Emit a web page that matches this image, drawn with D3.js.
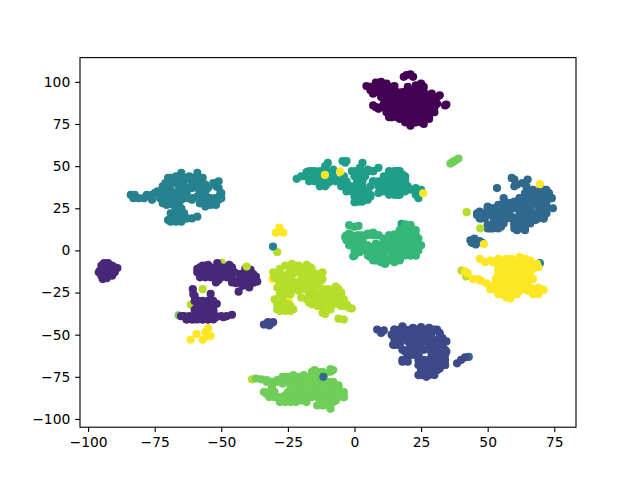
<!DOCTYPE html>
<html>
<head>
<meta charset="utf-8">
<script src="https://cdn.jsdelivr.net/npm/d3@7"></script>
<style>
  html, body { margin: 0; padding: 0; background: #fff; }
  svg { display: block; }
  text { font-family: "DejaVu Sans", sans-serif; }
</style>
</head>
<body>
<div id="chart"></div>
<script>
// values, one list per digit class: [x, y]
const class0 = [[19.5,104],[21,104.5],[18.5,103],[22,103],[4.5,97.5],[6,95],[8,99.5],[10,100],[12,99],[15,97.5],[13,96],[9,95],[7,93],[10,91],[13,92],[16,93],[20,97],[23,98],[25,99],[22,95],[19,94],[26,94],[29,93],[32,92],[24,92],[27,90],[22,90],[18,89],[15,88],[11,87],[7,86],[9,84],[13,85],[16,84],[19,85],[22,86],[25,87],[28,87],[31,87],[34.5,86.5],[34,86],[30,82],[27,83],[24,83],[21,81],[18,81],[15,81],[13,79],[17,78],[20,78],[23,76],[21,74],[25,78],[28,78],[26,75],[29,85],[12,82],[18,86],[21,92],[15,90]];
const class1 = [[-95,-9],[-94,-7.5],[-92.5,-7.5],[-91,-9],[-89,-10.5],[-95.5,-12],[-93,-12],[-91,-12.5],[-94,-15],[-92,-14],[-94.5,-17],[-93,-16.5],
  [-59,-11],[-57,-9],[-55,-8.5],[-51.5,-7.5],[-47,-8.5],[-58,-13],[-56,-12],[-54,-14],[-52,-12],[-50,-10],[-48,-13],[-46,-12],[-51,-17.5],[-53,-15],[-50,-15],[-46,-15],[-44.5,-19.5],[-42,-19],[-41,-14],[-39,-11.5],[-43,-17],[-41,-17],[-39,-15],[-37,-15.5],[-40,-20],[-38,-19],[-36.5,-18.5],[-39.5,-22],[-43.5,-24.5],[-43,-14],
  [-60.7,-23],[-60.5,-26],[-60,-30],[-54,-25.8],[-58.5,-30],[-57,-34],[-55,-31],[-51.7,-31.7],[-60,-35.3],[-56.1,-36.3],[-53,-35.3],[-58,-39.6],[-55,-41],[-52,-39.6],[-49.2,-39.6],[-46,-38.2],[-65.1,-39],[-63,-41],[-60.5,-41],[-57,-41],[-53,-40]];
const class2 = [[8.5,-47],[10,-49],[11,-47.5],[14,-50],[15,-47],[18,-45],[20,-48],[22,-46],[25,-45.5],[28,-46],[30,-47],[32,-49],[33,-52],[34.5,-54],[29,-49],[25,-50],[21,-51],[17,-50],[16,-56],[14.5,-56],[20,-54],[23,-54],[27,-54],[31,-55],[19,-60],[24,-58],[28,-58],[31,-58],[34.5,-60],[33,-62],[20.5,-62],[24,-62],[29,-62],[33,-65],[18,-66],[20,-66],[25,-66],[28,-66],[31,-67],[34,-68],[25,-70],[28,-70],[31,-71],[25,-74],[27,-75],[29,-73],[32,-70],[38.5,-67],[40,-65],[41.5,-63.5],
  [-34,-44],[-32.5,-42.5],[-31,-43],[-32,-44.5],[-30.5,-42.5]];
const class3 = [[47,23],[46,21],[47.5,19],[50,22],[52,25],[54,27],[53.5,37],[50,26],[52,20],[55,19],[56,24],[57,22],[58,28],[56,31],[60,29],[60,25],[59,20],[62,17],[60,15],[53,16],[50,15],[51,13],[55,14],[61,12],[64,12],[63,14],[65,18],[63,22],[66,24],[64,28],[67,28],[69,26],[72,26],[70,20],[72,22],[68,18],[71,19],[74.5,25],[66,33],[68,31],[70,34],[73,33],[74,31],[72,36],[70,37],[67,36],[64,34],[62,31],[65,31],[60,42],[59,43],[61,39],[60,38],[63,40],[65,42],[64.5,38],
  [43.5,6],[45,7],[46,5],[44,4.5],[45.5,3.5],[47,5.5],[48,4.5]];
const class3Strays = [[42.9,-63.2],[-11.7,-75]];
const class4 = [[-84,33],[-83,31],[-82.5,33],[-81,31],[-79,31],[-78,33],[-76,30],[-76,33],[-74,35],[-73,33],[-72,38],[-72,30],[-70,40],[-69,36],[-70,32],[-70,28],[-68,27],[-70.5,27],
  [-70,43],[-67,44],[-65,46],[-62,44],[-59,46],[-60,42],[-64,41],[-66,38],[-63,37],[-60,38],[-58,40],[-67,33],[-64,33],[-61,31],[-65,30],
  [-59,32],[-58,37],[-56,39],[-53,40],[-51,41],[-52,38],[-55,31],[-58,28],[-61,30],[-52,31],[-50.5,33],[-51,30],[-54,27],[-56,26],[-52,27],
  [-69,22],[-67,24],[-65,25],[-64,22],[-70,18],[-68,19],[-66,18],[-63,19],[-61,19],[-59,20]];
const class4Strays = [[-30.6,2.3],[69.6,-7.6]];
const class5 = [[-21.7,42.5],[-19,44],[-18,46.5],[-16,47],[-16,44],[-15,42],[-13,39.5],[-12,43],[-12,46],[-11,50],[-10,52],[-8,48],[-9,44],[-10,40],[-7,42],[-4.5,53],[-3,53],[-3.5,52],[-4,44],[-3,40],[-1,47],[-5,41],[-2,37],[0,35],[1,38],[2,42],[0.5,47],[2,49],[3,52],[5,48],[7,47],[9,49],[6,38],[4,35],[3,32],[0,28.5],[2,29],[5,30],[6,33],[7,41],[10,40],[12,43],[13,46],[16,47],[18,45],[19,42],[15,42],[12,38],[14,35],[16,33],[18,37],[20,38],[17,40],[21,36],[23,37],[25,36],[24,31],[23,33],[9,34],[17.7,15.7]];
const class6 = [[-2,15],[0,14],[1.5,14.5],[-3.5,8],[-2,10],[0,7],[-1,4],[2,9],[3,6],[5,10],[7,10.5],[9,9],[11,7],[13,9],[15,9.5],[17,12],[19,15.5],[21,15],[22,12],[23,9],[24,7],[20,10],[18,7],[16,6],[13,4],[10,3],[8,4],[5,3],[3,2],[1,0],[0,-3],[-0.5,-3.5],[2,-1],[5,-1],[6,-4],[8,-6],[10,-7],[11.5,-8],[14,-4],[15,-7],[17,-5],[19,0],[21,-3],[23,-3],[24,2],[20,4],[22,6],[18,2],[15,2],[12,0],[9,0],[7,1],[14.5,-1]];
const class7 = [[-37,-76],[-35,-76.5],[-33,-77],[-31,-78],[-29,-77],[-26,-75],[-23,-74],[-19,-74],[-15,-71],[-14,-73],[-11,-73],[-9,-70.5],[-8,-71],[-31,-81],[-27,-79],[-24,-78],[-21,-78],[-17,-77],[-14,-78],[-11,-78],[-8,-79],[-6,-80],[-33,-85],[-30,-87],[-28,-88],[-25,-84],[-22,-82],[-19,-82],[-16,-83],[-13,-83],[-10,-84],[-7,-84],[-5,-86],[-4,-87],[-23,-88],[-20,-89],[-17,-87],[-13,-88],[-9,-88],[-7,-89],[-14,-92],[-12,-92],[-10,-92],[-9,-94],[-26,-86],
  [36,51.5],[37,52.5],[38,53.5],[39,54.5],[36.5,52]];
const class7Strays = [[-66,-38.5]];
const class8 = [[-30.5,-13],[-28,-11],[-26,-9],[-23.5,-8],[-21,-9],[-18,-8.5],[-16.5,-10],[-14,-14],[-12,-13],[-30,-16],[-27,-15],[-24,-13],[-21,-13],[-18,-13],[-16,-15],[-12.5,-18],[-28,-19],[-25,-18],[-22,-19],[-18,-18],[-29,-22],[-26,-23],[-23,-23],[-21,-24],[-15,-22],[-12,-23],[-9,-25],[-13,-26],[-7,-21.5],[-5,-25],[-10,-28],[-30,-29],[-27,-29],[-20,-28],[-17,-27.5],[-14,-30],[-11,-31],[-7,-27],[-5,-29],[-7,-31],[-4,-33],[-2,-34],[-1,-34.5],[-28,-33],[-25,-32],[-28,-36],[-26,-36],[-24,-36],[-24,-33],[-17,-31],[-14,-33],[-12,-34],[-5,-33],[-11,-37.8],[-6,-40.5],[-4,-41],[-12,-37]];
const class8Under = [[-49.9,-7.2],[-61.4,-32.2],[-38.5,-76.5],[-29,-1],[40.2,-12],[41.9,-15.5]];
const class8Over = [[-40.5,-9.6],[-57,-23],[42.1,22.7],[47.2,13.1]];
const class9 = [[47,-5],[49,-7],[51,-6],[54,-5],[57,-5],[59,-5],[62,-4],[64,-5],[66,-6],[68.5,-8],[69,-10],[67,-11],[54,-10],[57,-9],[60,-9],[63,-9],[66,-10],[54,-14],[56,-13],[59,-13],[62,-13],[65,-13],[53,-17],[56,-17],[59,-17],[62,-17],[65,-17],[52,-21],[55,-21],[58,-21],[61,-21],[64,-20],[67,-17],[66,-22],[69,-22],[68,-25],[71,-23.5],[54,-26],[57,-28],[58.5,-28.5],[59,-25],[62,-24],[65,-24],[51,-23],
  [41.5,-12.5],[42.5,-13.5],[44.5,-17],[46.5,-17],[47.5,-18],[49.5,-19.5],
  [-61.5,-53],[-59.3,-49.6],[-57,-53],[-54.9,-46.3],[-56,-48.5],[-54,-50.8],[-55.5,-51],
  [-28.2,13.5],[-29.5,10.5],[-26.7,10.5],[-28.2,11.5]];
const class9Strays = [[-11.1,44.8],[-5.4,46.7],[25.8,33.9],[69.6,39.3],[48.6,3.8]];
const class9Under = [[-30.8,-17],[-24.7,-30.3]];

// the dense middles of the blobs, read as rows: [y, [x, x, ...]]
const rows0 = [[97,[6,8,10,12,14,24,26]],[94,[8,10,12,14,16,18,20,22,24,26]],[91,[11,13,15,17,19,21,23,25,27,29,31]],[88,[12,14,16,18,20,22,24,26,28,30]],[85,[8,10,12,14,16,18,20,22,24,26,28,30]],[82,[14,16,18,20,22,24,26,28]],[79,[14,16,18,20,22,24,26,28]],[76,[19,21,23,25]]];
const rows1 = [[-10,[-94,-92,-90,-58,-56,-54,-52,-48,-46]],[-13,[-96,-94,-92,-90,-59,-57,-55,-53,-51,-49,-47,-45]],[-15,[-95,-93,-91]],[-16,[-58,-56,-54,-52,-50,-48,-46,-42,-40,-38]],[-19,[-52,-46,-44,-42,-40,-38]],[-14,[-42,-40,-38]],[-21,[-42,-40]],[-11,[-41,-40]],[-27,[-60]],[-30,[-59,-57,-55,-53]],[-33,[-59,-57,-55,-53]],[-36,[-59,-57,-55,-53]],[-39,[-64,-62,-60,-58,-56,-54,-52,-50,-48]],[-41,[-63,-61,-59,-57,-55,-53]]];
const rows2 = [[-47,[15,17,19,21,23,25,27,29,31]],[-50,[14,16,18,20,22,24,26,28,32]],[-53,[15,17,19,21,23,25,27,29,31,33]],[-56,[15,17,21,23,25,29,31,33]],[-59,[18,20,22,24,26,28,30,32,34]],[-62,[20,22,24,30,32,34]],[-65,[18,24,26,28,30,32,34]],[-68,[24,26,28,30,32,34]],[-71,[25,27,29,31]],[-74,[24,26,28,30]]];
const rows3 = [[34,[65,67,69,71,73]],[31,[62,64,66,68,70,72,74]],[28,[56,58,60,62,64,70,72]],[25,[50,52,54,56,58,62,64,66,70,72]],[22,[46,48,50,52,54,56,58,62,64,66,68,70,72]],[19,[47,49,53,55,57,59,61,63,65,67,69,71]],[16,[52,54,56,60,62,64,66]],[13,[50,52,54,60,62,64]]];
const rows4 = [[43,[-69,-67,-65,-63,-61,-59,-57]],[40,[-71,-69,-67,-61,-59,-57]],[37,[-71,-65,-63,-61,-59,-57,-55,-51]],[34,[-75,-73,-71,-69,-67,-65,-63,-58,-56,-50]],[31,[-73,-71,-69,-67,-65,-63,-58,-56,-54,-52,-50]],[28,[-72,-70,-68,-66,-58,-56,-54,-52]],[22,[-68,-66,-64]],[19,[-69,-67,-65,-63]],[17,[-69,-67,-65]]];
const rows5 = [[47,[-17,-15,-13,-11,-9,3,5,7,13,15,17]],[44,[-20,-18,-14,-12,-10,-8,0,2,4,11,13,15,17,19]],[41,[-17,-15,-13,-11,-9,-7,-5,-3,1,3,7,9,11,13,15,17,19]],[38,[-13,-11,-5,-3,-1,1,3,9,11,13,15,17,19]],[35,[-3,-1,1,3,5,11,13,15,17,19]],[33,[13,15,17]],[32,[0,2,4,6]],[29,[1,3]]];
const rows6 = [[15,[19,21]],[12,[17,19,21,23]],[9,[-3,-1,1,3,5,7,9,13,15,17,19,21,23]],[6,[-3,-1,1,3,11,13,15,17,19,21,23]],[3,[-2,0,2,11,13,15,17,19,21,23,25]],[2,[5,7,9]],[0,[0,2,4,6,8,10,12,14,16,18,20,22,24]],[-3,[0,5,7,9,11,15,17,19,21,23]],[-6,[7,9,11,13,15,17]]];
const rows7 = [[-72,[-16,-14,-12,-9]],[-75,[-27,-25,-23,-21,-19,-17,-15,-13]],[-78,[-33,-31,-29,-26,-24,-22,-20,-18,-16,-14,-12,-10,-8]],[-81,[-31,-24,-22,-20,-18,-16,-14,-12,-10,-8,-6]],[-84,[-34,-32,-30,-24,-22,-20,-18,-16,-14,-12,-10,-8,-6,-4]],[-87,[-32,-30,-28,-26,-24,-22,-20,-18,-16,-14,-12,-10,-8,-6,-4]],[-90,[-28,-26,-24,-22,-18,-12,-10,-8]]];
const rows8 = [[-11,[-24,-22,-20,-18,-16]],[-14,[-29,-25,-23,-19,-17,-13]],[-17,[-29,-26,-24,-20,-16,-14,-12]],[-20,[-27,-25,-23,-21,-19,-17,-14]],[-23,[-28,-24,-19,-16,-10,-8,-6]],[-26,[-28,-26,-24,-17,-15,-11,-7,-5]],[-29,[-18,-16,-12,-8,-6,-4]],[-32,[-29,-27,-16,-12,-10,-8,-6,-3]],[-35,[-29,-27,-25,-23,-9]]];
const rows9 = [[-7,[52,54,56,58,60,62,64,66]],[-10,[55,57,59,61,63,65]],[-12,[54,56,58,60,62,64,66]],[-15,[54,56,58,60,62,64,66]],[-19,[53,55,57,59,61,63,65]],[-23,[52,54,56,58,60,62,64,66,68,70]],[-26,[55,57,59,61,67,69]]];

const xTicks = [-100, -75, -50, -25, 0, 25, 50, 75];
const yTicks = [-100, -75, -50, -25, 0, 25, 50, 75, 100];

function fromRows(rows) {
  return rows.flatMap(([yv, xs]) => xs.map(xv => [xv, yv]));
}

// draw order matters, the strays sit under or over the blobs
const layers = [
  [9, class9Under], [8, class8Under], [7, class7Strays], [4, class4Strays], [3, class3Strays.slice(0, 1)],
  [0, class0.concat(fromRows(rows0))], [1, class1.concat(fromRows(rows1))], [2, class2.concat(fromRows(rows2))],
  [3, class3.concat(fromRows(rows3))], [4, class4.concat(fromRows(rows4))], [5, class5.concat(fromRows(rows5))],
  [6, class6.concat(fromRows(rows6))], [7, class7.concat(fromRows(rows7))], [8, class8.concat(fromRows(rows8))],
  [9, class9.concat(fromRows(rows9))],
  [3, class3Strays.slice(1)], [8, class8Over], [9, class9Strays]
];

const width = 640, height = 480;
const margin = { top: 57.6, right: 64, bottom: 52.8, left: 80 };

const svg = d3.select("#chart").append("svg")
  .attr("width", width)
  .attr("height", height);

const x = d3.scaleLinear().domain([-103.04, 83.15]).range([margin.left, width - margin.right]);
const y = d3.scaleLinear().domain([-104.9, 114.4]).range([height - margin.bottom, margin.top]);
const color = d3.scaleSequential(d3.interpolateViridis).domain([0, 9]);

const fmt = d => String(d).replace("-", "\u2212");

layers.forEach(([cls, pts]) => {
  svg.append("g").selectAll("circle")
    .data(pts)
    .join("circle")
    .attr("cx", d => x(d[0]))
    .attr("cy", d => y(d[1]))
    .attr("r", 4.1)
    .attr("fill", color(cls));
});

// axes
const xAxis = svg.append("g")
  .attr("transform", `translate(0,${height - margin.bottom})`)
  .call(d3.axisBottom(x).tickValues(xTicks).tickFormat(fmt).tickSize(4.86).tickPadding(4.86).tickSizeOuter(0));
const yAxis = svg.append("g")
  .attr("transform", `translate(${margin.left},0)`)
  .call(d3.axisLeft(y).tickValues(yTicks).tickFormat(fmt).tickSize(4.86).tickPadding(4.86).tickSizeOuter(0));

[xAxis, yAxis].forEach(g => {
  g.selectAll(".domain").remove();
  g.selectAll("line").attr("stroke", "#000").attr("stroke-width", 1.11);
  g.selectAll("text").attr("fill", "#000").style("font-size", "13.89px").style("font-family", '"DejaVu Sans", sans-serif');
});

// frame
svg.append("rect")
  .attr("x", margin.left)
  .attr("y", margin.top)
  .attr("width", width - margin.left - margin.right)
  .attr("height", height - margin.top - margin.bottom)
  .attr("fill", "none")
  .attr("stroke", "#000")
  .attr("stroke-width", 1.11);
</script>
</body>
</html>
